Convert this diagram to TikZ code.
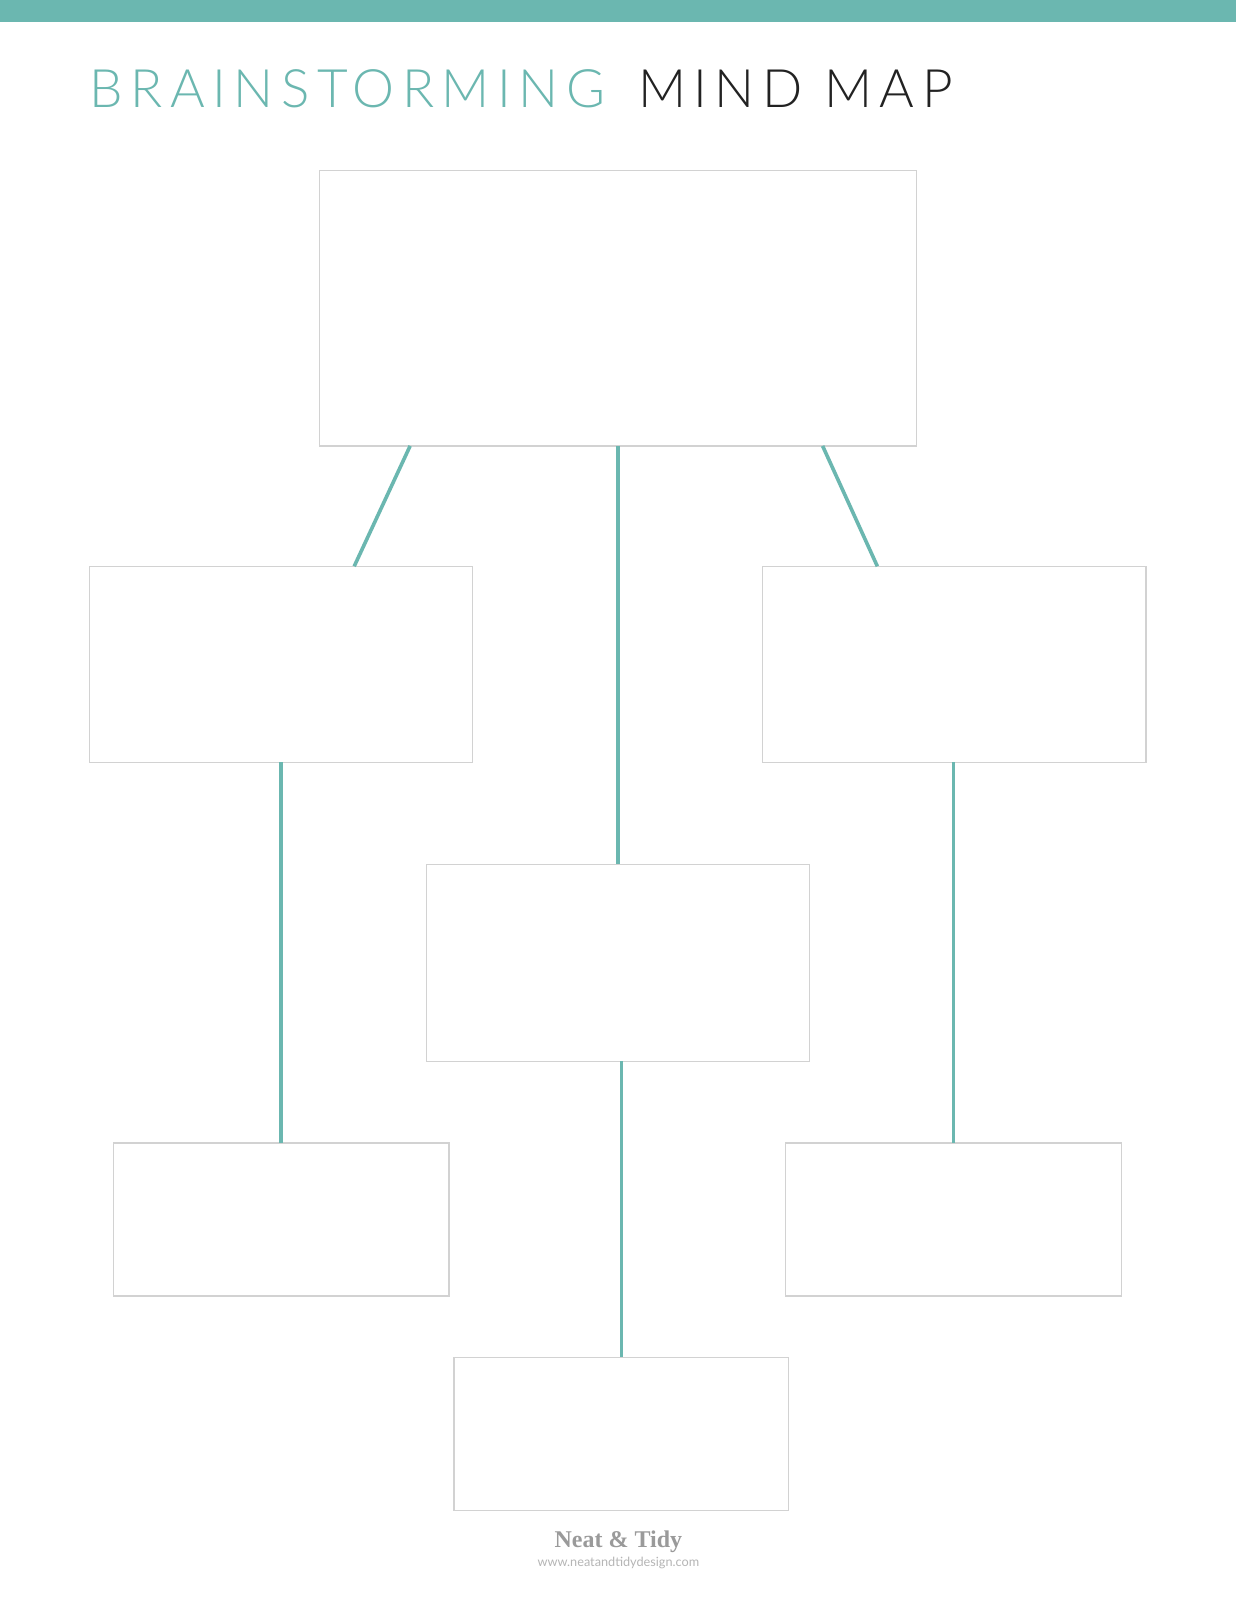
\documentclass[tikz,border=0pt]{standalone}
\usepackage{fontspec}
\usetikzlibrary{calc}
\newfontfamily\titlefont[UprightFont={Lato Light},LetterSpace=14]{Lato}
\newfontfamily\urlfont{Lato}
\setmainfont{Liberation Serif}
\definecolor{teal1}{HTML}{6BB7B0}
\definecolor{boxgray}{HTML}{D2D2D2}
\definecolor{dark}{HTML}{222222}
\definecolor{foot}{HTML}{9A9A9A}
\definecolor{foot2}{HTML}{B5B5B5}
\begin{document}
\begin{tikzpicture}[x=1.0206pt,y=-1.0206pt,
  mbox/.style={draw=boxgray,line width=1.3pt,fill=white,inner sep=0,outer sep=0},
  conn/.style={draw=teal1,line width=3.6pt}]
\useasboundingbox (0,0) rectangle (1211,1568);
\fill[white] (0,0) rectangle (1211,1568);
\fill[teal1] (0,0) rectangle (1211,22);
% title
\node[anchor=base west,inner sep=0] (title) at (88,105)
  {\fontsize{53}{60}\titlefont\color{teal1}BRAINSTORMING\hspace{33pt}\color{dark}MIND MAP};
% boxes
\node[mbox,minimum width=597pt,minimum height=275.5pt] (top) at (605.5,302) {};
\node[mbox,minimum width=382.7pt,minimum height=196pt] (ml) at (275.5,651) {};
\node[mbox,minimum width=383.7pt,minimum height=196pt] (mr) at (935,651) {};
\node[mbox,minimum width=382.7pt,minimum height=197pt] (mc) at (605.5,943.5) {};
\node[mbox,minimum width=335.8pt,minimum height=153pt] (bl) at (275.5,1195) {};
\node[mbox,minimum width=335.8pt,minimum height=153pt] (br) at (934.5,1195) {};
\node[mbox,minimum width=334.8pt,minimum height=153pt] (bc) at (609,1405) {};
% connectors
\draw[conn] ($(top.south west)!0.152!(top.south east)$) -- ($(ml.north west)!0.691!(ml.north east)$);
\draw[conn] (top.south) -- (mc.north);
\draw[conn] ($(top.south west)!0.843!(top.south east)$) -- ($(mr.north west)!0.30!(mr.north east)$);
\draw[conn] (ml.south) -- (bl.north);
\draw[conn] (br.north |- mr.south) -- (br.north);
\draw[conn] (bc.north |- mc.south) -- (bc.north);
% footer
\node[anchor=base,inner sep=0,text=foot] (brand) at (606,1517)
  {\fontsize{24}{26}\selectfont\bfseries Neat \& Tidy};
\node[anchor=base,inner sep=0,text=foot2] (url) at (606,1535)
  {\fontsize{12.7}{14}\urlfont www.neatandtidydesign.com};
\end{tikzpicture}
\end{document}
